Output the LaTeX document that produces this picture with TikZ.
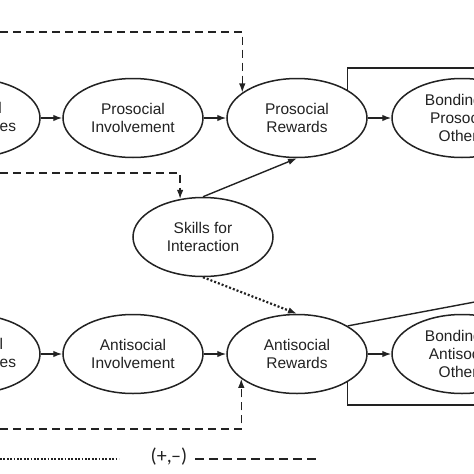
\documentclass[tikz,border=0pt]{standalone}
\usepackage{fontspec}
\setmainfont{Liberation Sans}
\newfontfamily\legendfont{Carlito}
\usetikzlibrary{shapes.geometric,arrows.meta}
\definecolor{ink}{HTML}{222222}
\tikzset{
  oval/.style={ellipse, draw=ink, line width=1.5pt, minimum width=140pt, minimum height=79pt,
    inner sep=0pt, align=center, text=ink, font=\fontsize{15.5}{18}\selectfont},
  conn/.style={draw=ink, line width=1.4pt},
  arr/.style={conn, -{Latex[length=9pt,width=6.5pt]}},
  dash8/.style={dash pattern=on 8pt off 5pt},
  dotline/.style={dash pattern=on 2pt off 2pt, line width=2.2pt},
}
\begin{document}
\begin{tikzpicture}[x=1pt,y=-1pt]
\useasboundingbox (0,0) rectangle (474,474);
\clip (0,0) rectangle (474,474);
\fill[white] (0,0) rectangle (474,474);

% top row
\node[oval] (popp) at (-30,118) {Prosocial\\Opportunities};
\node[oval] (pinv) at (133,118) {Prosocial\\Involvement};
\node[oval] (prew) at (297,118) {Prosocial\\Rewards};
\node[oval] (pbond) at (462,118) {Bonding to\\Prosocial\\Others};
% middle
\node[oval] (skills) at (203,237) {Skills for\\Interaction};
% bottom row
\node[oval] (aopp) at (-30,354) {Antisocial\\Opportunities};
\node[oval] (ainv) at (133,354) {Antisocial\\Involvement};
\node[oval] (arew) at (297,354) {Antisocial\\Rewards};
\node[oval] (abond) at (462,354) {Bonding to\\Antisocial\\Others};

% solid arrows
\draw[arr] (popp) -- (pinv);
\draw[arr] (pinv) -- (prew);
\draw[arr] (prew) -- (pbond);
\draw[arr] (aopp) -- (ainv);
\draw[arr] (ainv) -- (arew);
\draw[arr] (arew) -- (abond);
\draw[arr] (skills.north) -- (prew.south);
\draw[arr, dotline] (skills.south) -- (arew.north);

% dashed feeds
\coordinate (d1) at (0,32);
\coordinate (d2) at (0,173);
\coordinate (d3) at (0,429);
\draw[arr, dash8] (d1) -| (prew.155.6);
\draw[arr, dash8] (d2) -| (skills.121);
\draw[arr, dash8] (d3) -| (arew.204.4);

% lines leaving to the right
\coordinate (r1) at (480,68);
\coordinate (r2) at (480,301);
\coordinate (r3) at (480,405);
\draw[conn] (prew.29) |- (r1);
\draw[conn] (arew.29) -- (r2);
\draw[conn] (arew.-29) |- (r3);

% legend
\coordinate (l1) at (0,459);
\coordinate (l2) at (119,459);
\coordinate (l3) at (195,459);
\coordinate (l4) at (320,459);
\draw[conn, dash pattern=on 1.8pt off 1.6pt, line width=2.2pt] (l1) -- (l2);
\node[text=ink, font=\legendfont\fontsize{20}{23}\selectfont] (sign) at (169,457) {(+,\textendash)};
\draw[conn, dash pattern=on 9pt off 5pt] (l3) -- (l4);
\end{tikzpicture}
\end{document}
